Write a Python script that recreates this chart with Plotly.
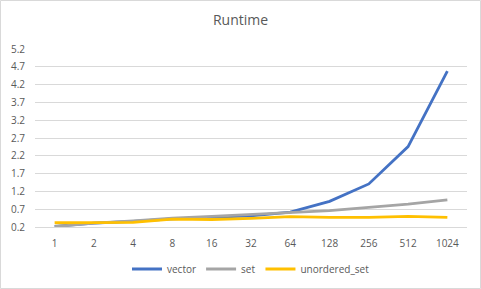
import plotly.graph_objects as go

categories = ["1", "2", "4", "8", "16", "32", "64", "128", "256", "512", "1024"]
vector = [0.22, 0.31, 0.36, 0.43, 0.47, 0.51, 0.62, 0.92, 1.41, 2.46, 4.58]
set_vals = [0.21, 0.31, 0.37, 0.45, 0.50, 0.55, 0.60, 0.66, 0.75, 0.84, 0.96]
unordered_set = [0.32, 0.32, 0.33, 0.42, 0.41, 0.44, 0.49, 0.47, 0.47, 0.50, 0.47]
y_ticks = [0.2, 0.7, 1.2, 1.7, 2.2, 2.7, 3.2, 3.7, 4.2, 4.7, 5.2]

W, H = 481, 289
L, R, T, B = 35, 14, 49, 62

fig = go.Figure()
for name, vals, color in [("vector", vector, "#4472C4"),
                          ("set", set_vals, "#A5A5A5"),
                          ("unordered_set", unordered_set, "#FFC000")]:
    fig.add_trace(go.Scatter(x=categories, y=vals, name=name, mode="lines",
                             line=dict(color=color, width=2.8)))

pw = W - L - R
ph = H - T - B
fig.add_shape(type="rect", xref="paper", yref="paper",
              x0=(0.5 - L) / pw, x1=(W - 0.5 - L) / pw,
              y0=-(H - 0.5 - T - ph) / ph, y1=(T - 0.5) / ph + 1,
              line=dict(color="#D9D9D9", width=1))

fig.update_layout(
    width=W, height=H,
    margin=dict(l=L, r=R, t=T, b=B, autoexpand=False),
    paper_bgcolor="white", plot_bgcolor="white",
    font=dict(family="Open Sans, Liberation Sans, sans-serif", color="#595959", size=10),
    title=dict(text="Runtime", x=0.5, xanchor="center", y=1 - 20 / H, yanchor="middle",
               font=dict(size=14, color="#595959")),
    showlegend=True,
    legend=dict(orientation="h", x=0.5, xanchor="center", y=-(269 - T - ph) / ph,
                yanchor="middle", font=dict(size=10, color="#595959"),
                itemwidth=30, tracegroupgap=0),
    xaxis=dict(type="category", range=[-0.5, len(categories) - 0.5],
               showgrid=False, showline=True, linecolor="#D9D9D9",
               ticks="", ticklabelstandoff=7, automargin=False,
               tickfont=dict(size=10, color="#595959"), fixedrange=True),
    yaxis=dict(range=[0.2, 5.2], tickvals=y_ticks, ticktext=[f"{v:.1f}" for v in y_ticks],
               showgrid=True, gridcolor="#D9D9D9", gridwidth=1, zeroline=False,
               showline=False, ticks="", ticklabelstandoff=9, automargin=False,
               tickfont=dict(size=10, color="#595959")),
)

fig.write_html("out.html")
